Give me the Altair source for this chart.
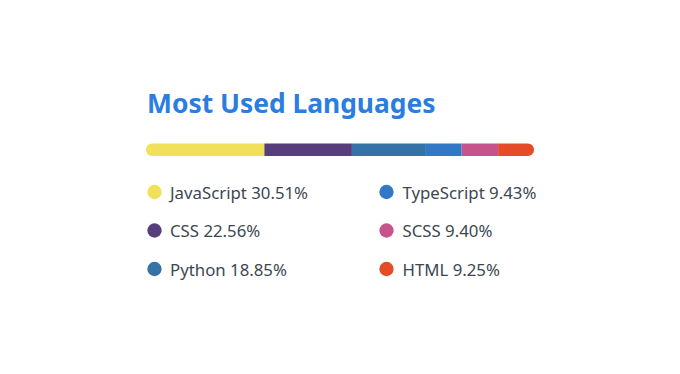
import altair as alt
import pandas as pd

langs = ["JavaScript", "CSS", "Python", "TypeScript", "SCSS", "HTML"]
pcts = [30.51, 22.56, 18.85, 9.43, 9.40, 9.25]
colors = ["#f1e05a", "#563d7c", "#3572a5", "#3178c6", "#c6538c", "#e34c26"]
title_text = "Most Used Languages"

starts, ends = [], []
acc = 0.0
for p in pcts:
    starts.append(acc)
    acc += p
    ends.append(acc)
total = acc

df = pd.DataFrame({
    "lang": langs,
    "pct": pcts,
    "start": [s / total * 100 for s in starts],
    "end": [e / total * 100 for e in ends],
    "idx": list(range(len(langs))),
    "col": [i // 3 for i in range(len(langs))],
    "row": [i % 3 for i in range(len(langs))],
    "label": [f"{l} {p:.2f}%" for l, p in zip(langs, pcts)],
})

color = alt.Color("lang:N", scale=alt.Scale(domain=langs, range=colors), legend=None)
xbar = alt.X("start:Q", scale=alt.Scale(domain=[0, 100], range=[138, 526]), axis=None)
base = alt.Chart(df)

def seg(filter_expr, **radius):
    return base.transform_filter(filter_expr).mark_bar(**radius).encode(
        x=xbar, x2="end:Q", y=alt.value(135.5), y2=alt.value(148), color=color
    )

bar_first = seg("datum.idx == 0", cornerRadiusTopLeft=6.25, cornerRadiusBottomLeft=6.25)
bar_mid = seg("datum.idx > 0 && datum.idx < 5")
bar_last = seg("datum.idx == 5", cornerRadiusTopRight=6.25, cornerRadiusBottomRight=6.25)

dots = base.mark_circle(size=205, opacity=1).encode(
    x=alt.X("col:Q", scale=alt.Scale(domain=[0, 1], range=[146.5, 378.5]), axis=None),
    y=alt.Y("row:Q", scale=alt.Scale(domain=[0, 2], range=[184, 261]), axis=None),
    color=color,
)
labels = base.mark_text(align="left", baseline="middle", font="Noto Sans", fontSize=16.8,
                        color="#3d4752").encode(
    x=alt.X("col:Q", scale=alt.Scale(domain=[0, 1], range=[162, 394.5]), axis=None),
    y=alt.Y("row:Q", scale=alt.Scale(domain=[0, 2], range=[185.5, 262.5]), axis=None),
    text="label:N",
)

title = alt.Chart(pd.DataFrame({"t": [title_text]})).mark_text(
    align="left", baseline="alphabetic", font="Noto Sans", fontSize=26.4, fontWeight="bold",
    color="#2a7de1",
).encode(x=alt.value(139), y=alt.value(105), text="t:N")

chart = alt.layer(bar_first, bar_mid, bar_last, dots, labels, title).resolve_scale(
    x="independent", y="independent"
).properties(
    width=664, height=358, autosize=alt.AutoSizeParams(type="none"), padding=0,
    background="#ffffff",
).configure_view(stroke=None)

chart.save("out.html", embed_options={"renderer": "svg", "actions": False})
